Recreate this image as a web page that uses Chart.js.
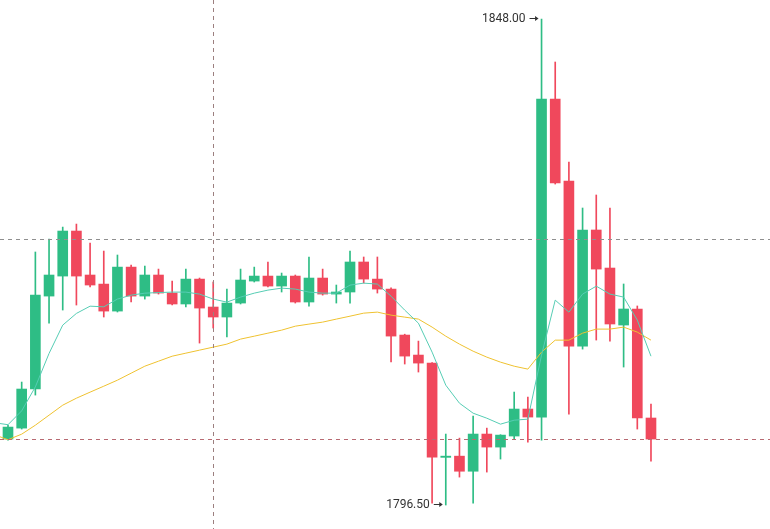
<!DOCTYPE html>
<html>
<head>
<meta charset="utf-8">
<script src="https://cdn.jsdelivr.net/npm/chart.js@4.4.1/dist/chart.umd.min.js"></script>
<style>
    html, body { margin: 0; padding: 0; background: #fff; }
    #wrap { width: 770px; height: 529px; }
</style>
</head>
<body>
<div id="wrap"><canvas id="priceChart" width="770" height="529"></canvas></div>
<script>
// candles, one per bar
const opens = [1803.49, 1804.65, 1808.79, 1818.64, 1820.76, 1825.53, 1820.87, 1819.91, 1817.05, 1821.71,
    1818.64, 1820.87, 1818.96, 1817.80, 1820.44, 1817.48, 1816.42, 1817.90, 1820.23, 1820.76,
    1819.70, 1820.76, 1818.01, 1820.55, 1818.85, 1819.07, 1822.25, 1820.44, 1819.38, 1814.51,
    1812.39, 1811.54, 1801.55, 1801.68, 1800.08, 1804.02, 1802.64, 1803.81, 1806.67, 1805.82,
    1839.52, 1830.83, 1813.34, 1825.64, 1821.61, 1815.57, 1817.27, 1805.72];
const highs = [1804.97, 1809.53, 1823.31, 1824.68, 1825.95, 1826.27, 1824.26, 1823.41, 1822.99, 1821.92,
    1821.82, 1821.50, 1820.23, 1821.50, 1820.55, 1820.13, 1819.38, 1821.50, 1821.71, 1822.25,
    1821.08, 1820.87, 1822.78, 1821.50, 1819.81, 1823.41, 1822.78, 1822.78, 1819.50, 1814.60,
    1813.87, 1811.60, 1804.02, 1803.59, 1805.93, 1804.65, 1803.95, 1808.47, 1807.94, 1848.00,
    1843.44, 1832.84, 1827.97, 1829.35, 1827.97, 1819.92, 1817.59, 1807.20];
const lows = [1803.38, 1804.55, 1808.15, 1815.78, 1817.16, 1817.69, 1819.60, 1816.42, 1816.95, 1818.01,
    1818.32, 1818.85, 1817.69, 1817.48, 1813.66, 1815.25, 1814.30, 1817.80, 1820.13, 1819.60,
    1819.07, 1817.90, 1817.58, 1818.74, 1817.90, 1817.90, 1820.02, 1818.96, 1811.65, 1811.44,
    1810.59, 1796.71, 1796.50, 1799.46, 1796.71, 1799.99, 1801.37, 1803.49, 1803.17, 1803.38,
    1830.51, 1806.14, 1813.02, 1813.98, 1813.87, 1811.12, 1804.55, 1801.16];
const closes = [1804.76, 1808.79, 1818.75, 1820.87, 1825.53, 1820.76, 1819.81, 1817.05, 1821.71, 1818.64,
    1820.87, 1818.96, 1817.80, 1820.44, 1817.37, 1816.42, 1817.90, 1820.34, 1820.76, 1819.70,
    1820.76, 1818.01, 1820.55, 1818.85, 1819.07, 1822.25, 1820.44, 1819.38, 1814.40, 1812.28,
    1811.54, 1801.58, 1801.68, 1800.08, 1804.02, 1802.64, 1803.91, 1806.67, 1805.82, 1839.52,
    1830.62, 1813.34, 1825.64, 1821.50, 1815.68, 1817.27, 1805.72, 1803.49];

// moving averages, starting one bar before the first candle
const maFast = [1805.22, 1805.01, 1806.48, 1809.02, 1812.56, 1815.56, 1816.80, 1817.57, 1817.50, 1818.32,
    1818.74, 1818.95, 1819.01, 1819.06, 1819.06, 1818.85, 1818.32, 1818.00, 1818.53, 1818.95,
    1819.27, 1819.48, 1819.38, 1819.06, 1818.95, 1818.95, 1819.80, 1820.01, 1819.91, 1818.63,
    1817.15, 1815.77, 1812.70, 1809.20, 1807.29, 1806.23, 1805.70, 1805.07, 1805.49, 1805.60,
    1812.38, 1818.21, 1816.94, 1818.85, 1819.69, 1818.85, 1818.53, 1816.09, 1812.27];
const maSlow = [1803.95, 1803.42, 1804.01, 1804.96, 1806.02, 1807.08, 1807.82, 1808.46, 1809.09, 1809.73,
    1810.47, 1811.21, 1811.74, 1812.27, 1812.59, 1812.91, 1813.23, 1813.55, 1814.08, 1814.39,
    1814.71, 1815.03, 1815.45, 1815.67, 1815.88, 1816.20, 1816.51, 1816.83, 1816.94, 1816.62,
    1816.41, 1816.20, 1815.35, 1814.39, 1813.55, 1812.80, 1812.17, 1811.64, 1811.21, 1810.90,
    1812.70, 1813.97, 1813.97, 1814.71, 1815.14, 1815.14, 1815.35, 1814.82, 1813.97];

// crosshair position
const crossIndex = 15;
const crossPrice = 1824.68;

const UP = '#2ebd85';
const DOWN = '#f0485c';

const candleColors = opens.map((o, i) => closes[i] >= o ? UP : DOWN);
const bodies = opens.map((o, i) => ({ x: i, y: [o, closes[i]] }));
const wicks = lows.map((l, i) => ({ x: i, y: [l, highs[i]] }));
const fastPts = maFast.map((v, i) => ({ x: i - 1, y: v }));
const slowPts = maSlow.map((v, i) => ({ x: i - 1, y: v }));

function marker(ctx, label, px, py) {
    // text, then a small arrow pointing at the extreme
    const ay = Math.round(py) - 0.5;
    ctx.beginPath();
    ctx.moveTo(px - 12, ay);
    ctx.lineTo(px - 5, ay);
    ctx.stroke();
    ctx.beginPath();
    ctx.moveTo(px - 3, ay);
    ctx.lineTo(px - 6.5, ay - 2.5);
    ctx.lineTo(px - 6.5, ay + 2.5);
    ctx.closePath();
    ctx.fill();
    ctx.fillText(label, px - 16, ay);
}

const overlay = {
    id: 'overlay',
    afterDatasetsDraw(chart) {
        const { ctx, chartArea: a, scales: { x, y } } = chart;
        ctx.save();
        ctx.lineWidth = 1;
        ctx.setLineDash([4, 4]);

        // crosshair
        ctx.strokeStyle = '#9c7f7f';
        const cx = Math.round(x.getPixelForValue(crossIndex)) + 0.5;
        ctx.beginPath();
        ctx.moveTo(cx, a.top);
        ctx.lineTo(cx, a.bottom);
        ctx.stroke();

        ctx.strokeStyle = '#8f8f8f';
        const cy = Math.round(y.getPixelForValue(crossPrice)) + 0.5;
        ctx.beginPath();
        ctx.moveTo(a.left, cy);
        ctx.lineTo(a.right, cy);
        ctx.stroke();

        // last price
        const last = closes.length - 1;
        ctx.strokeStyle = closes[last] >= opens[last] ? UP : '#b86a72';
        const ly = Math.round(y.getPixelForValue(closes[last])) + 0.5;
        ctx.beginPath();
        ctx.moveTo(a.left, ly);
        ctx.lineTo(a.right, ly);
        ctx.stroke();

        // high / low markers
        ctx.setLineDash([]);
        ctx.fillStyle = '#333';
        ctx.strokeStyle = '#333';
        ctx.font = '12px Roboto, "Noto Sans", sans-serif';
        ctx.textAlign = 'right';
        ctx.textBaseline = 'middle';
        const hi = highs.indexOf(Math.max(...highs));
        const lo = lows.indexOf(Math.min(...lows));
        marker(ctx, highs[hi].toFixed(2), x.getPixelForValue(hi), y.getPixelForValue(highs[hi]));
        marker(ctx, lows[lo].toFixed(2), x.getPixelForValue(lo), y.getPixelForValue(lows[lo]));
        ctx.restore();
    }
};

document.addEventListener('DOMContentLoaded', () => {
    const ctx = document.getElementById('priceChart').getContext('2d');

    new Chart(ctx, {
        type: 'bar',
        data: {
            datasets: [
                {
                    type: 'line',
                    data: fastPts,
                    borderColor: '#56cdb4',
                    borderWidth: 1,
                    pointRadius: 0,
                    tension: 0,
                    order: 0
                },
                {
                    type: 'line',
                    data: slowPts,
                    borderColor: '#efc230',
                    borderWidth: 1,
                    pointRadius: 0,
                    tension: 0,
                    order: 0
                },
                {
                    data: wicks,
                    backgroundColor: candleColors,
                    barThickness: 1,
                    grouped: false,
                    borderSkipped: false,
                    order: 2
                },
                {
                    data: bodies,
                    backgroundColor: candleColors,
                    barThickness: 10,
                    grouped: false,
                    borderSkipped: false,
                    order: 1
                }
            ]
        },
        options: {
            responsive: false,
            animation: false,
            layout: { padding: 0 },
            plugins: {
                legend: { display: false },
                tooltip: { enabled: false }
            },
            scales: {
                x: { type: 'linear', min: -0.585, max: 55.70, offset: false, display: false },
                y: { min: 1793.96, max: 1850.01, display: false }
            }
        },
        plugins: [overlay]
    });
});
</script>
</body>
</html>
